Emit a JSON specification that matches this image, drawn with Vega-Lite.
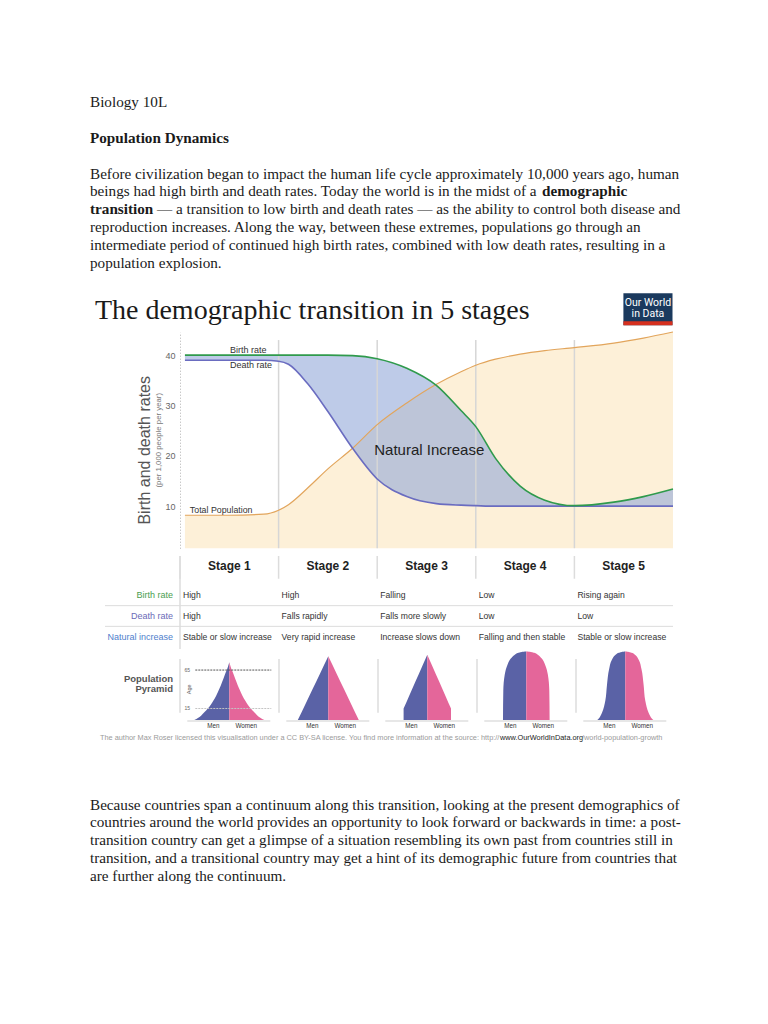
{
  "$schema": "https://vega.github.io/schema/vega-lite/v6.json",
  "padding": {"left": 90, "top": 0, "right": 0, "bottom": 0},
  "background": "white",
  "bounds": "flush",
  "spacing": 0,
  "config": {"view": {"stroke": null}, "font": "Liberation Sans"},
  "resolve": {"scale": {"x": "independent", "y": "independent", "color": "independent"}},
  "datasets": {
    "one": [{"k": 1}],
    "top": [
      {"line": 0, "part": "n", "text": "Biology 10L"},
      {"line": 2, "part": "b", "text": "Population Dynamics"},
      {"line": 4, "part": "n", "text": "Before civilization began to impact the human life cycle approximately 10,000 years ago, human"},
      {"line": 5, "part": "n", "text": "beings had high birth and death rates. Today the world is in the midst of a"},
      {"line": 5, "part": "b2", "text": "demographic"},
      {"line": 6, "part": "b", "text": "transition"},
      {"line": 6, "part": "n2", "text": "— a transition to low birth and death rates — as the ability to control both disease and"},
      {"line": 7, "part": "n", "text": "reproduction increases. Along the way, between these extremes, populations go through an"},
      {"line": 8, "part": "n", "text": "intermediate period of continued high birth rates, combined with low death rates, resulting in a"},
      {"line": 9, "part": "n", "text": "population explosion."}
    ],
    "curves": [
      {"x": 0.05, "birth": 40, "death": 39, "pop": 8.2},
      {"x": 0.5, "birth": 40, "death": 39, "pop": 8.2},
      {"x": 0.85, "birth": 40, "death": 39, "pop": 8.4},
      {"x": 1.0, "birth": 40, "death": 38.8, "pop": 9.2},
      {"x": 1.1, "birth": 40, "death": 38.2, "pop": 10.3},
      {"x": 1.3, "birth": 40, "death": 34.2, "pop": 13.7},
      {"x": 1.5, "birth": 40, "death": 28.8, "pop": 17.4},
      {"x": 1.75, "birth": 39.9, "death": 21.5, "pop": 21.5},
      {"x": 2.0, "birth": 39.3, "death": 15.4, "pop": 26.2},
      {"x": 2.3, "birth": 37.4, "death": 11.9, "pop": 30.5},
      {"x": 2.6, "birth": 34.0, "death": 10.5, "pop": 34.2},
      {"x": 2.85, "birth": 29.0, "death": 10.2, "pop": 36.7},
      {"x": 3.0, "birth": 25.8, "death": 10.1, "pop": 38.0},
      {"x": 3.2, "birth": 19.5, "death": 10.0, "pop": 39.2},
      {"x": 3.45, "birth": 14.0, "death": 10.0, "pop": 40.2},
      {"x": 3.7, "birth": 11.2, "death": 10.0, "pop": 40.9},
      {"x": 4.0, "birth": 10.1, "death": 10.0, "pop": 41.5},
      {"x": 4.4, "birth": 10.8, "death": 10.0, "pop": 42.4},
      {"x": 4.7, "birth": 11.9, "death": 10.0, "pop": 43.4},
      {"x": 5.0, "birth": 13.4, "death": 10.0, "pop": 44.6}
    ],
    "bounds": [{"x": 1}, {"x": 2}, {"x": 3}, {"x": 4}],
    "stages": [{"stage": "Stage 1"}, {"stage": "Stage 2"}, {"stage": "Stage 3"}, {"stage": "Stage 4"}, {"stage": "Stage 5"}],
    "rows": [{"row": 1, "label": "Birth rate"}, {"row": 2, "label": "Death rate"}, {"row": 3, "label": "Natural increase"}],
    "cells": [
      {"row": 1, "stage": "Stage 1", "text": "High"},
      {"row": 1, "stage": "Stage 2", "text": "High"},
      {"row": 1, "stage": "Stage 3", "text": "Falling"},
      {"row": 1, "stage": "Stage 4", "text": "Low"},
      {"row": 1, "stage": "Stage 5", "text": "Rising again"},
      {"row": 2, "stage": "Stage 1", "text": "High"},
      {"row": 2, "stage": "Stage 2", "text": "Falls rapidly"},
      {"row": 2, "stage": "Stage 3", "text": "Falls more slowly"},
      {"row": 2, "stage": "Stage 4", "text": "Low"},
      {"row": 2, "stage": "Stage 5", "text": "Low"},
      {"row": 3, "stage": "Stage 1", "text": "Stable or slow increase"},
      {"row": 3, "stage": "Stage 2", "text": "Very rapid increase"},
      {"row": 3, "stage": "Stage 3", "text": "Increase slows down"},
      {"row": 3, "stage": "Stage 4", "text": "Falling and then stable"},
      {"row": 3, "stage": "Stage 5", "text": "Stable or slow increase"}
    ],
    "pyr": [
      {"stage": "Stage 1", "kind": "p", "age": 0, "men": -35, "women": 35},
      {"stage": "Stage 1", "kind": "p", "age": 3, "men": -31, "women": 31},
      {"stage": "Stage 1", "kind": "p", "age": 6, "men": -28, "women": 28},
      {"stage": "Stage 1", "kind": "p", "age": 10, "men": -25, "women": 25},
      {"stage": "Stage 1", "kind": "p", "age": 15, "men": -21.5, "women": 21.5},
      {"stage": "Stage 1", "kind": "p", "age": 20, "men": -18.5, "women": 18.5},
      {"stage": "Stage 1", "kind": "p", "age": 25, "men": -16, "women": 16},
      {"stage": "Stage 1", "kind": "p", "age": 32, "men": -13, "women": 13},
      {"stage": "Stage 1", "kind": "p", "age": 39, "men": -10.5, "women": 10.5},
      {"stage": "Stage 1", "kind": "p", "age": 45, "men": -8.5, "women": 8.5},
      {"stage": "Stage 1", "kind": "p", "age": 50, "men": -7, "women": 7},
      {"stage": "Stage 1", "kind": "p", "age": 57, "men": -5, "women": 5},
      {"stage": "Stage 1", "kind": "p", "age": 62, "men": -3.5, "women": 3.5},
      {"stage": "Stage 1", "kind": "p", "age": 66, "men": -2.2, "women": 2.2},
      {"stage": "Stage 1", "kind": "p", "age": 70, "men": -1.2, "women": 1.2},
      {"stage": "Stage 1", "kind": "p", "age": 75, "men": 0, "women": 0},
      {"stage": "Stage 2", "kind": "p", "age": 0, "men": -30.5, "women": 30.5},
      {"stage": "Stage 2", "kind": "p", "age": 20, "men": -23.15, "women": 23.15},
      {"stage": "Stage 2", "kind": "p", "age": 40, "men": -15.8, "women": 15.8},
      {"stage": "Stage 2", "kind": "p", "age": 60, "men": -8.45, "women": 8.45},
      {"stage": "Stage 2", "kind": "p", "age": 83, "men": 0, "women": 0},
      {"stage": "Stage 3", "kind": "p", "age": 0, "men": -23.7, "women": 23.7},
      {"stage": "Stage 3", "kind": "p", "age": 15, "men": -23.7, "women": 23.7},
      {"stage": "Stage 3", "kind": "p", "age": 16, "men": -23.36, "women": 23.36},
      {"stage": "Stage 3", "kind": "p", "age": 30, "men": -18.62, "women": 18.62},
      {"stage": "Stage 3", "kind": "p", "age": 50, "men": -11.85, "women": 11.85},
      {"stage": "Stage 3", "kind": "p", "age": 70, "men": -5.08, "women": 5.08},
      {"stage": "Stage 3", "kind": "p", "age": 85, "men": 0, "women": 0},
      {"stage": "Stage 4", "kind": "p", "age": 0, "men": -23.3, "women": 23.3},
      {"stage": "Stage 4", "kind": "p", "age": 38, "men": -23, "women": 23},
      {"stage": "Stage 4", "kind": "p", "age": 59.5, "men": -21.5, "women": 21.5},
      {"stage": "Stage 4", "kind": "p", "age": 72, "men": -18.8, "women": 18.8},
      {"stage": "Stage 4", "kind": "p", "age": 80, "men": -15.5, "women": 15.5},
      {"stage": "Stage 4", "kind": "p", "age": 85, "men": -11.5, "women": 11.5},
      {"stage": "Stage 4", "kind": "p", "age": 87.5, "men": -8, "women": 8},
      {"stage": "Stage 4", "kind": "p", "age": 88.6, "men": -4.5, "women": 4.5},
      {"stage": "Stage 4", "kind": "p", "age": 89, "men": 0, "women": 0},
      {"stage": "Stage 5", "kind": "p", "age": 0, "men": -28, "women": 28},
      {"stage": "Stage 5", "kind": "p", "age": 2, "men": -26.5, "women": 26.5},
      {"stage": "Stage 5", "kind": "p", "age": 5, "men": -25, "women": 25},
      {"stage": "Stage 5", "kind": "p", "age": 9.5, "men": -23.3, "women": 23.3},
      {"stage": "Stage 5", "kind": "p", "age": 25, "men": -20, "women": 20},
      {"stage": "Stage 5", "kind": "p", "age": 46, "men": -18.3, "women": 18.3},
      {"stage": "Stage 5", "kind": "p", "age": 66, "men": -16.2, "women": 16.2},
      {"stage": "Stage 5", "kind": "p", "age": 78, "men": -13.5, "women": 13.5},
      {"stage": "Stage 5", "kind": "p", "age": 84.5, "men": -10, "women": 10},
      {"stage": "Stage 5", "kind": "p", "age": 87.5, "men": -6.5, "women": 6.5},
      {"stage": "Stage 5", "kind": "p", "age": 88.6, "men": -3.5, "women": 3.5},
      {"stage": "Stage 5", "kind": "p", "age": 89, "men": 0, "women": 0},
      {"stage": "Stage 1", "kind": "base"},
      {"stage": "Stage 2", "kind": "base"},
      {"stage": "Stage 3", "kind": "base"},
      {"stage": "Stage 4", "kind": "base"},
      {"stage": "Stage 5", "kind": "base"},
      {"stage": "Stage 1", "kind": "ref", "age": 65},
      {"stage": "Stage 1", "kind": "ref", "age": 15},
      {"stage": "Stage 1", "kind": "agelab", "text": "Age"},
      {"stage": "Stage 1", "kind": "plabel"}
    ],
    "bottom": [
      {"line": 4, "text": "Because countries span a continuum along this transition, looking at the present demographics of"},
      {"line": 5, "text": "countries around the world provides an opportunity to look forward or backwards in time: a post-"},
      {"line": 6, "text": "transition country can get a glimpse of a situation resembling its own past from countries still in"},
      {"line": 7, "text": "transition, and a transitional country may get a hint of its demographic future from countries that"},
      {"line": 8, "text": "are further along the continuum."}
    ]
  },
  "vconcat": [
    {
      "width": 493,
      "height": 331.8,
      "data": {"name": "top"},
      "encoding": {
        "x": {"value": -90},
        "y": {"field": "line", "type": "quantitative", "scale": {"domain": [-5.747, 12.893], "reverse": true, "nice": false, "zero": false}, "axis": null},
        "text": {"field": "text"}
      },
      "layer": [
        {"transform": [{"filter": "datum.part == 'n'"}], "mark": {"type": "text", "align": "left", "baseline": "middle", "font": "Liberation Serif", "fontSize": 15.2, "color": "#1a1a1a"}},
        {"transform": [{"filter": "datum.part == 'b'"}], "mark": {"type": "text", "align": "left", "baseline": "middle", "font": "Liberation Serif", "fontSize": 15.2, "fontWeight": "bold", "color": "#1a1a1a"}},
        {"transform": [{"filter": "datum.part == 'b2'"}], "mark": {"type": "text", "align": "left", "baseline": "middle", "font": "Liberation Serif", "fontSize": 15.2, "fontWeight": "bold", "color": "#1a1a1a", "dx": 452}},
        {"transform": [{"filter": "datum.part == 'n2'"}], "mark": {"type": "text", "align": "left", "baseline": "middle", "font": "Liberation Serif", "fontSize": 15.2, "color": "#1a1a1a", "dx": 67}}
      ]
    },
    {
      "width": 493,
      "height": 216.2,
      "layer": [
        {
          "data": {"name": "curves"},
          "mark": {"type": "area", "interpolate": "monotone", "color": "#fdf0d8"},
          "encoding": {
            "x": {"field": "x", "type": "quantitative", "title": null, "scale": {"domain": [0, 5], "nice": false, "zero": false}, "axis": null},
            "y": {"field": "pop", "type": "quantitative", "title": null, "scale": {"domain": [1.65, 44.6], "nice": false, "zero": false},
              "axis": {"values": [10, 20, 30, 40], "title": null, "grid": false, "ticks": false, "domainColor": "#b0b0b0", "domainDash": [1, 2], "domainWidth": 1, "labelColor": "#666", "labelFontSize": 9, "labelPadding": 5, "labelFont": "Liberation Sans"}},
            "y2": {"datum": 1.65}
          }
        },
        {
          "data": {"name": "curves"},
          "mark": {"type": "area", "interpolate": "monotone", "color": "#93a8d9", "opacity": 0.6},
          "encoding": {
            "x": {"field": "x", "type": "quantitative", "title": null},
            "y": {"field": "birth", "type": "quantitative", "title": null},
            "y2": {"field": "death"}
          }
        },
        {
          "data": {"name": "bounds"},
          "mark": {"type": "rule", "color": "#d6d6d6", "strokeWidth": 1.5},
          "encoding": {
            "x": {"field": "x", "type": "quantitative", "title": null},
            "y": {"datum": 1.65},
            "y2": {"datum": 43}
          }
        },
        {
          "data": {"name": "curves"},
          "mark": {"type": "line", "interpolate": "monotone", "color": "#e2a55c", "strokeWidth": 1.2},
          "encoding": {
            "x": {"field": "x", "type": "quantitative", "title": null},
            "y": {"field": "pop", "type": "quantitative", "title": null}
          }
        },
        {
          "data": {"name": "curves"},
          "mark": {"type": "line", "interpolate": "monotone", "color": "#6a6cc0", "strokeWidth": 1.6},
          "encoding": {
            "x": {"field": "x", "type": "quantitative", "title": null},
            "y": {"field": "death", "type": "quantitative", "title": null}
          }
        },
        {
          "data": {"name": "curves"},
          "mark": {"type": "line", "interpolate": "monotone", "color": "#2f9a4c", "strokeWidth": 1.6},
          "encoding": {
            "x": {"field": "x", "type": "quantitative", "title": null},
            "y": {"field": "birth", "type": "quantitative", "title": null}
          }
        },
        {
          "data": {"name": "one"},
          "mark": {"type": "text", "align": "left", "baseline": "middle", "fontSize": 9, "color": "#333", "text": "Birth rate"},
          "encoding": {"x": {"datum": 0.508}, "y": {"datum": 41.12}}
        },
        {
          "data": {"name": "one"},
          "mark": {"type": "text", "align": "left", "baseline": "middle", "fontSize": 9, "color": "#333", "text": "Death rate"},
          "encoding": {"x": {"datum": 0.508}, "y": {"datum": 38.14}}
        },
        {
          "data": {"name": "one"},
          "mark": {"type": "text", "align": "left", "baseline": "middle", "fontSize": 8.8, "color": "#333", "text": "Total Population"},
          "encoding": {"x": {"datum": 0.1}, "y": {"datum": 9.19}}
        },
        {
          "data": {"name": "one"},
          "mark": {"type": "text", "align": "center", "baseline": "middle", "fontSize": 15, "color": "#222", "text": "Natural Increase"},
          "encoding": {"x": {"datum": 2.528}, "y": {"datum": 21.2}}
        },
        {
          "data": {"name": "one"},
          "mark": {"type": "text", "align": "center", "baseline": "middle", "angle": 270, "fontSize": 16, "color": "#555", "text": "Birth and death rates"},
          "encoding": {"x": {"datum": -0.355}, "y": {"datum": 21.1}}
        },
        {
          "data": {"name": "one"},
          "mark": {"type": "text", "align": "center", "baseline": "middle", "angle": 270, "fontSize": 7.8, "color": "#777", "text": "(per 1,000 people per year)"},
          "encoding": {"x": {"datum": -0.21}, "y": {"datum": 23.1}}
        },
        {
          "data": {"name": "one"},
          "mark": {"type": "text", "align": "left", "baseline": "alphabetic", "font": "Liberation Serif", "fontSize": 28, "color": "#1a1a1a", "text": "The demographic transition in 5 stages"},
          "encoding": {"x": {"datum": -0.863}, "y": {"datum": 47.14}}
        },
        {
          "data": {"name": "one"},
          "mark": {"type": "rect", "color": "#1b3a5e"},
          "encoding": {"x": {"datum": 4.497}, "x2": {"datum": 4.995}, "y": {"datum": 52.31}, "y2": {"datum": 45.95}}
        },
        {
          "data": {"name": "one"},
          "mark": {"type": "rect", "color": "#d5301f"},
          "encoding": {"x": {"datum": 4.497}, "x2": {"datum": 4.995}, "y": {"datum": 46.75}, "y2": {"datum": 45.95}}
        },
        {
          "data": {"name": "one"},
          "mark": {"type": "text", "align": "center", "baseline": "middle", "font": "Roboto", "fontSize": 10.5, "color": "white", "text": "Our World"},
          "encoding": {"x": {"datum": 4.746}, "y": {"datum": 50.46}}
        },
        {
          "data": {"name": "one"},
          "mark": {"type": "text", "align": "center", "baseline": "middle", "font": "Roboto", "fontSize": 10.5, "color": "white", "text": "in Data"},
          "encoding": {"x": {"datum": 4.746}, "y": {"datum": 48.08}}
        }
      ]
    },
    {
      "width": 493,
      "height": 100,
      "layer": [
        {
          "data": {"name": "stages"},
          "mark": {"type": "text", "align": "center", "baseline": "middle", "fontSize": 12, "fontWeight": "bold", "color": "#222"},
          "encoding": {
            "x": {"field": "stage", "type": "ordinal", "bandPosition": 0.5, "scale": {"type": "band", "paddingInner": 0, "paddingOuter": 0}, "axis": null},
            "y": {"datum": -0.415, "scale": {"domain": [-1.237, 3.594], "reverse": true, "nice": false, "zero": false}, "axis": null},
            "text": {"field": "stage"}
          }
        },
        {
          "data": {"name": "stages"},
          "mark": {"type": "rule", "color": "#dcdcdc", "strokeWidth": 1.5},
          "encoding": {
            "x": {"field": "stage", "type": "ordinal", "bandPosition": 0},
            "y": {"datum": -0.9},
            "y2": {"datum": 0.2}
          }
        },
        {
          "data": {"name": "one"},
          "mark": {"type": "rule", "color": "#dcdcdc", "strokeWidth": 1.5},
          "encoding": {
            "x": {"value": 0},
            "y": {"datum": -0.9},
            "y2": {"datum": 3.594}
          }
        },
        {
          "data": {"name": "rows"},
          "transform": [{"filter": "datum.row < 3"}],
          "mark": {"type": "rule", "color": "#dcdcdc", "strokeWidth": 1, "yOffset": 10.35},
          "encoding": {
            "y": {"field": "row", "type": "quantitative"},
            "x": {"value": -75},
            "x2": {"value": 493}
          }
        },
        {
          "data": {"name": "rows"},
          "mark": {"type": "text", "align": "right", "baseline": "middle", "fontSize": 9, "dx": -7},
          "encoding": {
            "y": {"field": "row", "type": "quantitative"},
            "x": {"value": 0},
            "text": {"field": "label"},
            "color": {"field": "label", "type": "nominal", "scale": {"domain": ["Birth rate", "Death rate", "Natural increase"], "range": ["#4a9e50", "#6b6bb8", "#4f80cc"]}, "legend": null}
          }
        },
        {
          "data": {"name": "cells"},
          "mark": {"type": "text", "align": "left", "baseline": "middle", "fontSize": 8.6, "color": "#333", "dx": 3},
          "encoding": {
            "x": {"field": "stage", "type": "ordinal", "bandPosition": 0},
            "y": {"field": "row", "type": "quantitative"},
            "text": {"field": "text"}
          }
        }
      ]
    },
    {
      "data": {"name": "pyr"},
      "facet": {"column": {"field": "stage", "type": "nominal", "header": null}},
      "spacing": 0,
      "bounds": "flush",
      "spec": {
        "width": 98.6,
        "height": 85,
        "layer": [
          {
            "transform": [{"filter": "datum.kind == 'p'"}],
            "mark": {"type": "area", "orient": "horizontal", "interpolate": "monotone", "color": "#5a62a6"},
            "encoding": {
              "y": {"field": "age", "type": "quantitative", "scale": {"domain": [-18.2, 92.4], "nice": false, "zero": false}, "axis": null},
              "x": {"field": "men", "type": "quantitative", "scale": {"domain": [-49.3, 49.3], "nice": false, "zero": false}, "axis": null},
              "x2": {"datum": 0}
            }
          },
          {
            "transform": [{"filter": "datum.kind == 'p'"}],
            "mark": {"type": "area", "orient": "horizontal", "interpolate": "monotone", "color": "#e4669a"},
            "encoding": {
              "y": {"field": "age", "type": "quantitative"},
              "x": {"field": "women", "type": "quantitative"},
              "x2": {"datum": 0}
            }
          },
          {
            "transform": [{"filter": "datum.kind == 'base'"}],
            "mark": {"type": "rule", "color": "#cfcfcf", "strokeWidth": 1},
            "encoding": {"x": {"datum": -42}, "x2": {"datum": 41}, "y": {"datum": -1.3}}
          },
          {
            "transform": [{"filter": "datum.kind == 'base'"}],
            "mark": {"type": "rule", "color": "#dcdcdc", "strokeWidth": 1.5},
            "encoding": {"x": {"datum": -49.3}, "y": {"datum": 9.5}, "y2": {"datum": 79.4}}
          },
          {
            "transform": [{"filter": "datum.kind == 'base'"}],
            "mark": {"type": "text", "align": "center", "baseline": "middle", "fontSize": 6.3, "color": "#333", "text": "Men"},
            "encoding": {"x": {"datum": -16}, "y": {"datum": -7.8}}
          },
          {
            "transform": [{"filter": "datum.kind == 'base'"}],
            "mark": {"type": "text", "align": "center", "baseline": "middle", "fontSize": 6.3, "color": "#333", "text": "Women"},
            "encoding": {"x": {"datum": 17}, "y": {"datum": -7.8}}
          },
          {
            "transform": [{"filter": "datum.kind == 'ref'"}],
            "mark": {"type": "rule", "strokeWidth": 1, "strokeDash": [2, 1]},
            "encoding": {
              "y": {"field": "age", "type": "quantitative"},
              "x": {"datum": -34},
              "x2": {"datum": 42},
              "color": {"condition": {"test": "datum.age > 50", "value": "#555"}, "value": "#c4c4c4"}
            }
          },
          {
            "transform": [{"filter": "datum.kind == 'ref'"}],
            "mark": {"type": "text", "align": "center", "baseline": "middle", "fontSize": 5, "color": "#666"},
            "encoding": {
              "y": {"field": "age", "type": "quantitative"},
              "x": {"datum": -42},
              "text": {"field": "age", "type": "quantitative"}
            }
          },
          {
            "transform": [{"filter": "datum.kind == 'agelab'"}],
            "mark": {"type": "text", "align": "center", "baseline": "middle", "fontSize": 5.5, "angle": 270, "color": "#666"},
            "encoding": {"x": {"datum": -40}, "y": {"datum": 40}, "text": {"field": "text"}}
          },
          {
            "transform": [{"filter": "datum.kind == 'plabel'"}],
            "mark": {"type": "text", "align": "right", "baseline": "middle", "fontSize": 9.5, "fontWeight": "bold", "color": "#555", "dx": -7, "text": "Population"},
            "encoding": {"x": {"datum": -49.3}, "y": {"datum": 53.4}}
          },
          {
            "transform": [{"filter": "datum.kind == 'plabel'"}],
            "mark": {"type": "text", "align": "right", "baseline": "middle", "fontSize": 9.5, "fontWeight": "bold", "color": "#555", "dx": -7, "text": "Pyramid"},
            "encoding": {"x": {"datum": -49.3}, "y": {"datum": 40.4}}
          }
        ]
      }
    },
    {
      "width": 493,
      "height": 263,
      "layer": [
        {
          "data": {"name": "bottom"},
          "mark": {"type": "text", "align": "left", "baseline": "middle", "font": "Liberation Serif", "fontSize": 15.2, "color": "#1a1a1a"},
          "encoding": {
            "x": {"value": -90},
            "y": {"field": "line", "type": "quantitative", "scale": {"domain": [-4.745, 10.03], "reverse": true, "nice": false, "zero": false}, "axis": null},
            "text": {"field": "text"}
          }
        },
        {
          "data": {"name": "one"},
          "mark": {"type": "text", "align": "left", "baseline": "middle", "fontSize": 7.35, "color": "#9a9a9a", "text": "The author Max Roser licensed this visualisation under a CC BY-SA license. You find more information at the source: http://"},
          "encoding": {"x": {"value": -80}, "y": {"datum": 0.27}}
        },
        {
          "data": {"name": "one"},
          "mark": {"type": "text", "align": "left", "baseline": "middle", "fontSize": 7.35, "color": "#222", "text": "www.OurWorldInData.org"},
          "encoding": {"x": {"value": 320}, "y": {"datum": 0.27}}
        },
        {
          "data": {"name": "one"},
          "mark": {"type": "text", "align": "left", "baseline": "middle", "fontSize": 7.35, "color": "#9a9a9a", "text": "/world-population-growth"},
          "encoding": {"x": {"value": 402}, "y": {"datum": 0.27}}
        }
      ]
    }
  ]
}
